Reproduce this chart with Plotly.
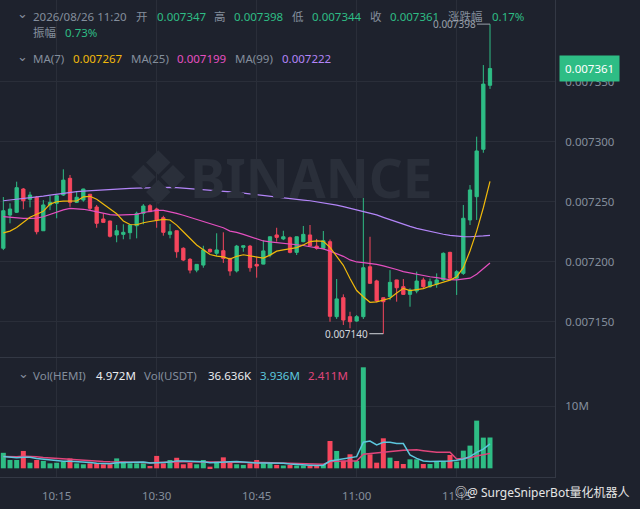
import plotly.graph_objects as go
import pandas as pd

# ---------------- data ----------------
times = pd.date_range("2026-08-26 10:07", periods=74, freq="min")

opens = [7211.2, 7238.9, 7241.2, 7260.6, 7252.0, 7253.7, 7225.8, 7247.3, 7248.7, 7255.6,
         7269.5, 7249.5, 7251.4, 7256.2, 7245.6, 7235.6, 7233.9, 7222.3, 7222.8, 7224.2,
         7230.0, 7240.3, 7246.7, 7243.9, 7236.7, 7222.8, 7225.8, 7211.2, 7202.0, 7193.0,
         7197.2, 7210.3, 7207.0, 7209.2, 7202.8, 7192.3, 7212.0, 7213.0, 7197.8, 7198.0,
         7205.6, 7222.3, 7219.0, 7220.0, 7207.8, 7216.7, 7222.3, 7213.0, 7211.2, 7216.7,
         7154.2, 7170.0, 7154.2, 7150.6, 7154.2, 7195.8, 7184.0, 7170.0, 7170.8, 7184.8,
         7179.2, 7172.8, 7175.6, 7184.8, 7179.2, 7181.2, 7184.8, 7207.8, 7186.2, 7190.3,
         7234.8, 7254.2, 7293.7, 7347.0]
highs = [7253.9, 7248.7, 7266.7, 7261.4, 7258.3, 7254.8, 7251.4, 7255.0, 7255.6, 7277.0,
         7272.3, 7258.9, 7260.8, 7256.5, 7247.3, 7240.3, 7234.2, 7230.6, 7231.2, 7230.8,
         7241.7, 7248.0, 7248.0, 7245.0, 7238.3, 7231.4, 7226.0, 7212.0, 7203.0, 7198.0,
         7213.3, 7211.0, 7223.7, 7224.5, 7203.2, 7214.0, 7213.5, 7214.0, 7204.2, 7218.0,
         7221.0, 7228.3, 7225.8, 7221.0, 7221.0, 7229.8, 7230.6, 7219.0, 7225.6, 7218.5,
         7185.6, 7172.8, 7158.3, 7155.6, 7273.9, 7220.8, 7185.0, 7170.3, 7193.0, 7185.0,
         7185.6, 7177.8, 7191.7, 7186.7, 7186.0, 7190.3, 7207.8, 7208.3, 7193.0, 7247.3,
         7263.9, 7304.2, 7363.9, 7398.0]
lows = [7209.7, 7232.0, 7240.6, 7243.7, 7245.3, 7222.8, 7225.6, 7243.0, 7236.2, 7254.8,
        7245.8, 7248.9, 7250.0, 7243.0, 7228.3, 7232.6, 7220.2, 7216.2, 7218.7, 7218.7,
        7219.5, 7231.2, 7241.5, 7228.3, 7221.7, 7219.5, 7203.3, 7200.5, 7190.3, 7191.2,
        7195.0, 7207.5, 7204.8, 7199.0, 7188.3, 7191.0, 7208.3, 7191.7, 7186.7, 7197.8,
        7203.7, 7216.7, 7218.0, 7207.0, 7205.6, 7216.2, 7213.0, 7210.0, 7210.3, 7150.0,
        7152.3, 7147.3, 7144.5, 7150.0, 7152.3, 7181.5, 7166.2, 7140.0, 7168.0, 7166.7,
        7172.3, 7162.5, 7173.7, 7177.8, 7178.3, 7178.3, 7184.0, 7184.8, 7172.3, 7189.0,
        7230.6, 7234.8, 7290.8, 7344.0]
closes = [7242.5, 7243.9, 7261.7, 7250.8, 7255.6, 7225.0, 7247.3, 7249.5, 7255.0, 7268.0,
          7249.5, 7253.7, 7260.6, 7244.5, 7232.0, 7232.8, 7221.2, 7225.8, 7224.5, 7230.6,
          7240.3, 7246.4, 7241.7, 7234.8, 7224.5, 7225.0, 7208.3, 7201.4, 7193.0, 7197.8,
          7209.8, 7208.3, 7209.8, 7202.8, 7192.3, 7213.0, 7213.3, 7195.0, 7196.4, 7209.0,
          7220.8, 7220.3, 7220.8, 7207.8, 7220.8, 7222.8, 7213.3, 7211.2, 7217.5, 7154.5,
          7169.0, 7151.4, 7150.0, 7154.2, 7195.0, 7182.0, 7167.3, 7166.7, 7182.8, 7178.3,
          7172.8, 7176.4, 7183.9, 7179.2, 7183.3, 7184.8, 7207.0, 7186.2, 7191.7, 7236.2,
          7259.8, 7292.3, 7348.0, 7361.0]

ma7 = [7224.0, 7225.5, 7228.5, 7233.0, 7237.0, 7239.5, 7242.0, 7248.0, 7250.0, 7250.5,
       7250.6, 7250.6, 7254.0, 7254.5, 7252.0, 7248.0, 7244.0, 7240.0, 7234.0, 7231.0,
       7230.8, 7232.5, 7233.5, 7234.5, 7235.3, 7234.8, 7230.5, 7225.0, 7219.5, 7214.0,
       7210.0, 7206.0, 7204.6, 7204.0, 7202.2, 7204.5, 7205.8, 7204.8, 7203.5, 7203.0,
       7205.5, 7208.8, 7209.8, 7210.6, 7211.8, 7214.0, 7216.8, 7217.4, 7217.0, 7212.0,
       7204.0, 7197.0, 7186.0, 7176.0, 7170.8, 7166.2, 7166.5, 7167.8, 7169.5, 7174.0,
       7177.8, 7176.0, 7176.8, 7177.6, 7179.6, 7181.3, 7183.0, 7184.7, 7187.5, 7195.0,
       7209.0, 7225.5, 7245.0, 7267.0]
ma25 = [7237.5, 7237.0, 7236.4, 7236.2, 7236.2, 7236.3, 7237.5, 7239.5, 7241.5, 7243.2,
        7244.4, 7244.3, 7243.7, 7242.8, 7241.5, 7240.4, 7239.2, 7238.9, 7238.9, 7238.9,
        7239.5, 7241.0, 7242.0, 7242.8, 7242.8, 7241.8, 7240.3, 7238.7, 7237.0, 7235.0,
        7233.0, 7231.5, 7229.8, 7228.3, 7225.5, 7224.5, 7222.8, 7221.0, 7218.8, 7217.3,
        7216.6, 7216.0, 7215.6, 7214.9, 7214.2, 7213.5, 7212.5, 7211.6, 7210.7, 7208.8,
        7206.6, 7204.5, 7201.5, 7199.8, 7199.2, 7198.7, 7197.8, 7196.6, 7195.3, 7193.5,
        7191.8, 7190.6, 7189.6, 7188.6, 7187.5, 7186.7, 7185.8, 7185.0, 7184.9, 7185.4,
        7186.3, 7189.5, 7194.5, 7199.0]
ma99 = [7250.8, 7251.4, 7252.0, 7252.5, 7253.0, 7253.7, 7254.6, 7255.5, 7256.3, 7257.2,
        7257.9, 7258.4, 7258.8, 7259.2, 7259.6, 7259.9, 7260.2, 7260.5, 7260.8, 7261.1,
        7261.3, 7261.5, 7261.6, 7261.8, 7261.9, 7262.0, 7261.8, 7261.4, 7261.0, 7260.7,
        7260.4, 7260.0, 7259.6, 7259.2, 7258.6, 7257.8, 7257.1, 7256.4, 7255.8, 7255.1,
        7254.5, 7253.8, 7253.2, 7252.6, 7252.0, 7251.4, 7250.8, 7250.0, 7249.2, 7248.2,
        7247.1, 7245.9, 7244.6, 7243.3, 7241.9, 7240.5, 7239.0, 7237.0, 7235.0, 7233.0,
        7231.2, 7229.4, 7227.8, 7226.5, 7225.2, 7224.0, 7222.9, 7222.0, 7221.3, 7220.9,
        7220.8, 7220.9, 7221.5, 7222.0]

# volume in millions
volumes = [2.5, 1.34, 1.34, 2.8, 0.9, 1.34, 1.2, 0.8, 0.9, 1.07,
           1.6, 0.8, 0.65, 0.8, 0.8, 0.65, 0.65, 1.6, 1.07, 0.8,
           0.8, 0.8, 0.37, 2.0, 0.8, 1.34, 1.7, 0.65, 0.9, 0.65,
           1.34, 0.27, 1.07, 1.77, 0.9, 0.65, 0.55, 0.8, 1.34, 0.8,
           0.8, 0.55, 0.45, 0.55, 0.45, 0.45, 0.45, 0.4, 0.65, 4.41,
           2.8, 1.18, 2.26, 1.18, 16.29, 2.26, 0.91, 4.84, 1.72, 1.18,
           0.7, 1.45, 1.45, 0.7, 0.7, 1.18, 1.18, 2.15, 1.08, 2.85,
           3.66, 7.69, 4.95, 4.972]
vol_ma5 = [1.9, 1.8, 1.7, 1.8, 1.8, 1.6, 1.5, 1.3, 1.2, 1.15,
           1.15, 1.1, 1.0, 0.95, 0.8, 0.75, 0.72, 0.9, 0.95, 0.98,
           1.0, 1.0, 0.85, 0.95, 0.95, 1.0, 1.2, 1.2, 1.1, 1.1,
           1.05, 0.9, 0.95, 1.05, 1.05, 1.1, 1.0, 0.9, 0.85, 0.85,
           0.85, 0.85, 0.8, 0.7, 0.6, 0.55, 0.5, 0.45, 0.5, 1.18,
           1.34, 1.6, 1.72, 1.88, 4.2, 4.4, 3.76, 4.2, 4.2, 4.0,
           4.0, 2.15, 1.6, 1.18, 1.08, 1.08, 1.08, 1.18, 1.29, 1.5,
           1.88, 2.58, 3.1, 3.936]
vol_ma10 = [1.9, 1.85, 1.85, 1.95, 1.95, 1.85, 1.75, 1.65, 1.55, 1.5,
            1.45, 1.4, 1.3, 1.2, 1.15, 1.1, 1.05, 1.05, 1.0, 1.0,
            1.0, 0.95, 0.9, 0.95, 0.97, 1.0, 1.05, 1.05, 1.05, 1.05,
            1.05, 1.0, 1.0, 1.02, 1.02, 1.0, 1.0, 0.98, 0.95, 0.92,
            0.9, 0.85, 0.8, 0.78, 0.75, 0.72, 0.7, 0.67, 0.65, 1.08,
            1.18, 1.18, 1.18, 1.18, 2.26, 2.37, 2.47, 2.69, 2.8, 2.85,
            2.9, 2.96, 3.0, 2.85, 2.69, 2.58, 2.58, 2.58, 1.5, 1.6,
            1.72, 1.99, 2.15, 2.411]

price_ticks = [0.00715, 0.00720, 0.00725, 0.00730, 0.00735]

S = 1e-6
O = [v * S for v in opens]
Hh = [v * S for v in highs]
L = [v * S for v in lows]
C = [v * S for v in closes]

# ---------------- style ----------------
BG = "#1e222d"
GRID = "#2a2e39"
SEP = "#333844"
GREEN = "#2ebd85"
RED = "#f6465d"
GRAY = "#848e9c"
FONT = "Noto Sans, Noto Sans CJK SC, sans-serif"
W, H = 555.0, 477.0   # plot area in px

def px(x):
    return x / W

def py(y):
    return (H - y) / H

fig = go.Figure()
fig.add_trace(go.Candlestick(
    x=times, open=O, high=Hh, low=L, close=C,
    increasing=dict(line=dict(color=GREEN, width=1), fillcolor=GREEN),
    decreasing=dict(line=dict(color=RED, width=1), fillcolor=RED),
    whiskerwidth=0, hoverinfo="skip", xaxis="x", yaxis="y", showlegend=False))
for arr, col in [(ma99, "#b385f8"), (ma25, "#e54fc0"), (ma7, "#f0b90b")]:
    fig.add_trace(go.Scatter(x=times, y=[v * S for v in arr], mode="lines",
                             line=dict(color=col, width=1.2), hoverinfo="skip",
                             xaxis="x", yaxis="y", showlegend=False))

vcolors = [GREEN if c >= o else RED for o, c in zip(opens, closes)]
fig.add_trace(go.Bar(x=times, y=volumes, marker=dict(color=vcolors, line=dict(width=0)),
                     hoverinfo="skip", xaxis="x2", yaxis="y2", showlegend=False))
fig.add_trace(go.Scatter(x=times, y=vol_ma10, mode="lines", line=dict(color="#e0457b", width=1.5),
                         hoverinfo="skip", xaxis="x2", yaxis="y2", showlegend=False))
fig.add_trace(go.Scatter(x=times, y=vol_ma5, mode="lines", line=dict(color="#5cc7dd", width=1.5),
                         hoverinfo="skip", xaxis="x2", yaxis="y2", showlegend=False))

t_left = pd.Timestamp("2026-08-26 10:06:30")
t_right = pd.Timestamp("2026-08-26 11:29:45")

xcommon = dict(range=[t_left, t_right], showgrid=True, gridcolor=GRID, gridwidth=1,
               dtick=15 * 60 * 1000, tick0="2026-08-26 10:15", zeroline=False,
               showline=True, linecolor=SEP, linewidth=1, ticks="")

annotations = []

def txt(x, y, s, color, size=11.5, anchor="left", family=FONT):
    annotations.append(dict(xref="paper", yref="paper", x=px(x), y=py(y), text=s,
                            showarrow=False, xanchor=anchor, yanchor="middle",
                            font=dict(color=color, size=size, family=family)))

# watermark
txt(158, 178, "❖", "#2a2f3a", size=74, anchor="center", family="DejaVu Sans")
txt(188, 178, "<b>BINANCE</b>", "#2a2f3a", size=53, family="Noto Sans")

# header line 1
chev = "⌄"
txt(15, 14, chev, GRAY, size=13, family="DejaVu Sans")
txt(31, 16, "2026/08/26 11:20", GRAY)
txt(134, 16, "开", GRAY)
txt(155, 16, f"{opens[-1] * S:.6f}", GREEN)
txt(212, 16, "高", GRAY)
txt(232, 16, f"{highs[-1] * S:.6f}", GREEN)
txt(290, 16, "低", GRAY)
txt(310, 16, f"{lows[-1] * S:.6f}", GREEN)
txt(368, 16, "收", GRAY)
txt(388, 16, f"{closes[-1] * S:.6f}", GREEN)
txt(446, 16, "涨跌幅", GRAY)
txt(490, 16, "0.17%", GREEN)
txt(31, 33, "振幅", GRAY)
txt(63, 33, "0.73%", GREEN)
# MA line
txt(15, 56, chev, GRAY, size=13, family="DejaVu Sans")
txt(31, 58, "MA(7)", GRAY)
txt(71, 58, f"{ma7[-1] * S:.6f}", "#f0b90b")
txt(129, 58, "MA(25)", GRAY)
txt(175, 58, f"{ma25[-1] * S:.6f}", "#e54fc0")
txt(233, 58, "MA(99)", GRAY)
txt(280, 58, f"{ma99[-1] * S:.6f}", "#b385f8")
# volume header
txt(16, 373, chev, GRAY, size=13, family="DejaVu Sans")
txt(31, 375, "Vol(HEMI)", GRAY)
txt(94, 375, f"{volumes[-1]:.3f}M", "#eaecef")
txt(142, 375, "Vol(USDT)", GRAY)
txt(206, 375, "36.636K", "#eaecef")
txt(258, 375, f"{vol_ma5[-1]:.3f}M", "#5cc7dd")
txt(306, 375, f"{vol_ma10[-1]:.3f}M", "#e0457b")

# high / low markers
i_hi = max(range(len(highs)), key=lambda i: highs[i])
i_lo = min(range(len(lows)), key=lambda i: lows[i])
annotations.append(dict(x=times[i_hi], y=highs[i_hi] * S, xref="x", yref="y",
                        text=f"{highs[i_hi] * S:.6f}", showarrow=True, arrowhead=0,
                        arrowwidth=1, arrowcolor="#9aa0aa", ax=-36, ay=0, standoff=0,
                        font=dict(color="#9aa0aa", size=10, family=FONT)))
annotations.append(dict(x=times[i_lo], y=lows[i_lo] * S, xref="x", yref="y",
                        text=f"{lows[i_lo] * S:.6f}", showarrow=True, arrowhead=0,
                        arrowwidth=1, arrowcolor="#d5d8dd", ax=-37, ay=0, standoff=0,
                        font=dict(color="#d5d8dd", size=10, family=FONT)))

# last price tag
annotations.append(dict(xref="paper", yref="y", x=px(559), y=closes[-1] * S,
                        text=f"{closes[-1] * S:.6f}", showarrow=False, xanchor="left",
                        yanchor="middle", bgcolor=GREEN, borderpad=5,
                        font=dict(color="white", size=11.5, family=FONT)))

# bottom-right credit
txt(632, 492, "◎@ SurgeSniperBot量化机器人", "#e6e6e6", size=12, anchor="right")

fig.update_layout(
    width=640, height=509,
    margin=dict(l=0, r=85, t=0, b=32),
    paper_bgcolor=BG, plot_bgcolor=BG,
    font=dict(family=FONT, color=GRAY, size=11.5),
    showlegend=False, bargap=0.25, boxgap=0.3,
    xaxis=dict(domain=[0, 1], anchor="y", showticklabels=False,
               rangeslider=dict(visible=False), **xcommon),
    xaxis2=dict(domain=[0, 1], anchor="y2", matches="x", tickformat="%H:%M",
                ticklabelstandoff=8, tickfont=dict(size=11.5, color=GRAY), **xcommon),
    yaxis=dict(domain=[py(357), 1], side="right", range=[0.0071206, 0.0074181],
               tickvals=price_ticks, tickformat=".6f", showgrid=True, gridcolor=GRID,
               zeroline=False, showline=True, linecolor=SEP, ticks="",
               ticklabelstandoff=7, tickfont=dict(size=11.5, color=GRAY)),
    yaxis2=dict(domain=[0, py(358)], side="right", range=[-1.40, 17.79],
                tickvals=[10], ticktext=["10M"], showgrid=True, gridcolor=GRID,
                zeroline=False, showline=True, linecolor=SEP, ticks="",
                ticklabelstandoff=7, tickfont=dict(size=11.5, color=GRAY)),
    annotations=annotations,
)

fig.write_html("out.html", config={"displayModeBar": False},
               post_script="document.body.style.margin='0';document.body.style.background='%s';" % BG)
